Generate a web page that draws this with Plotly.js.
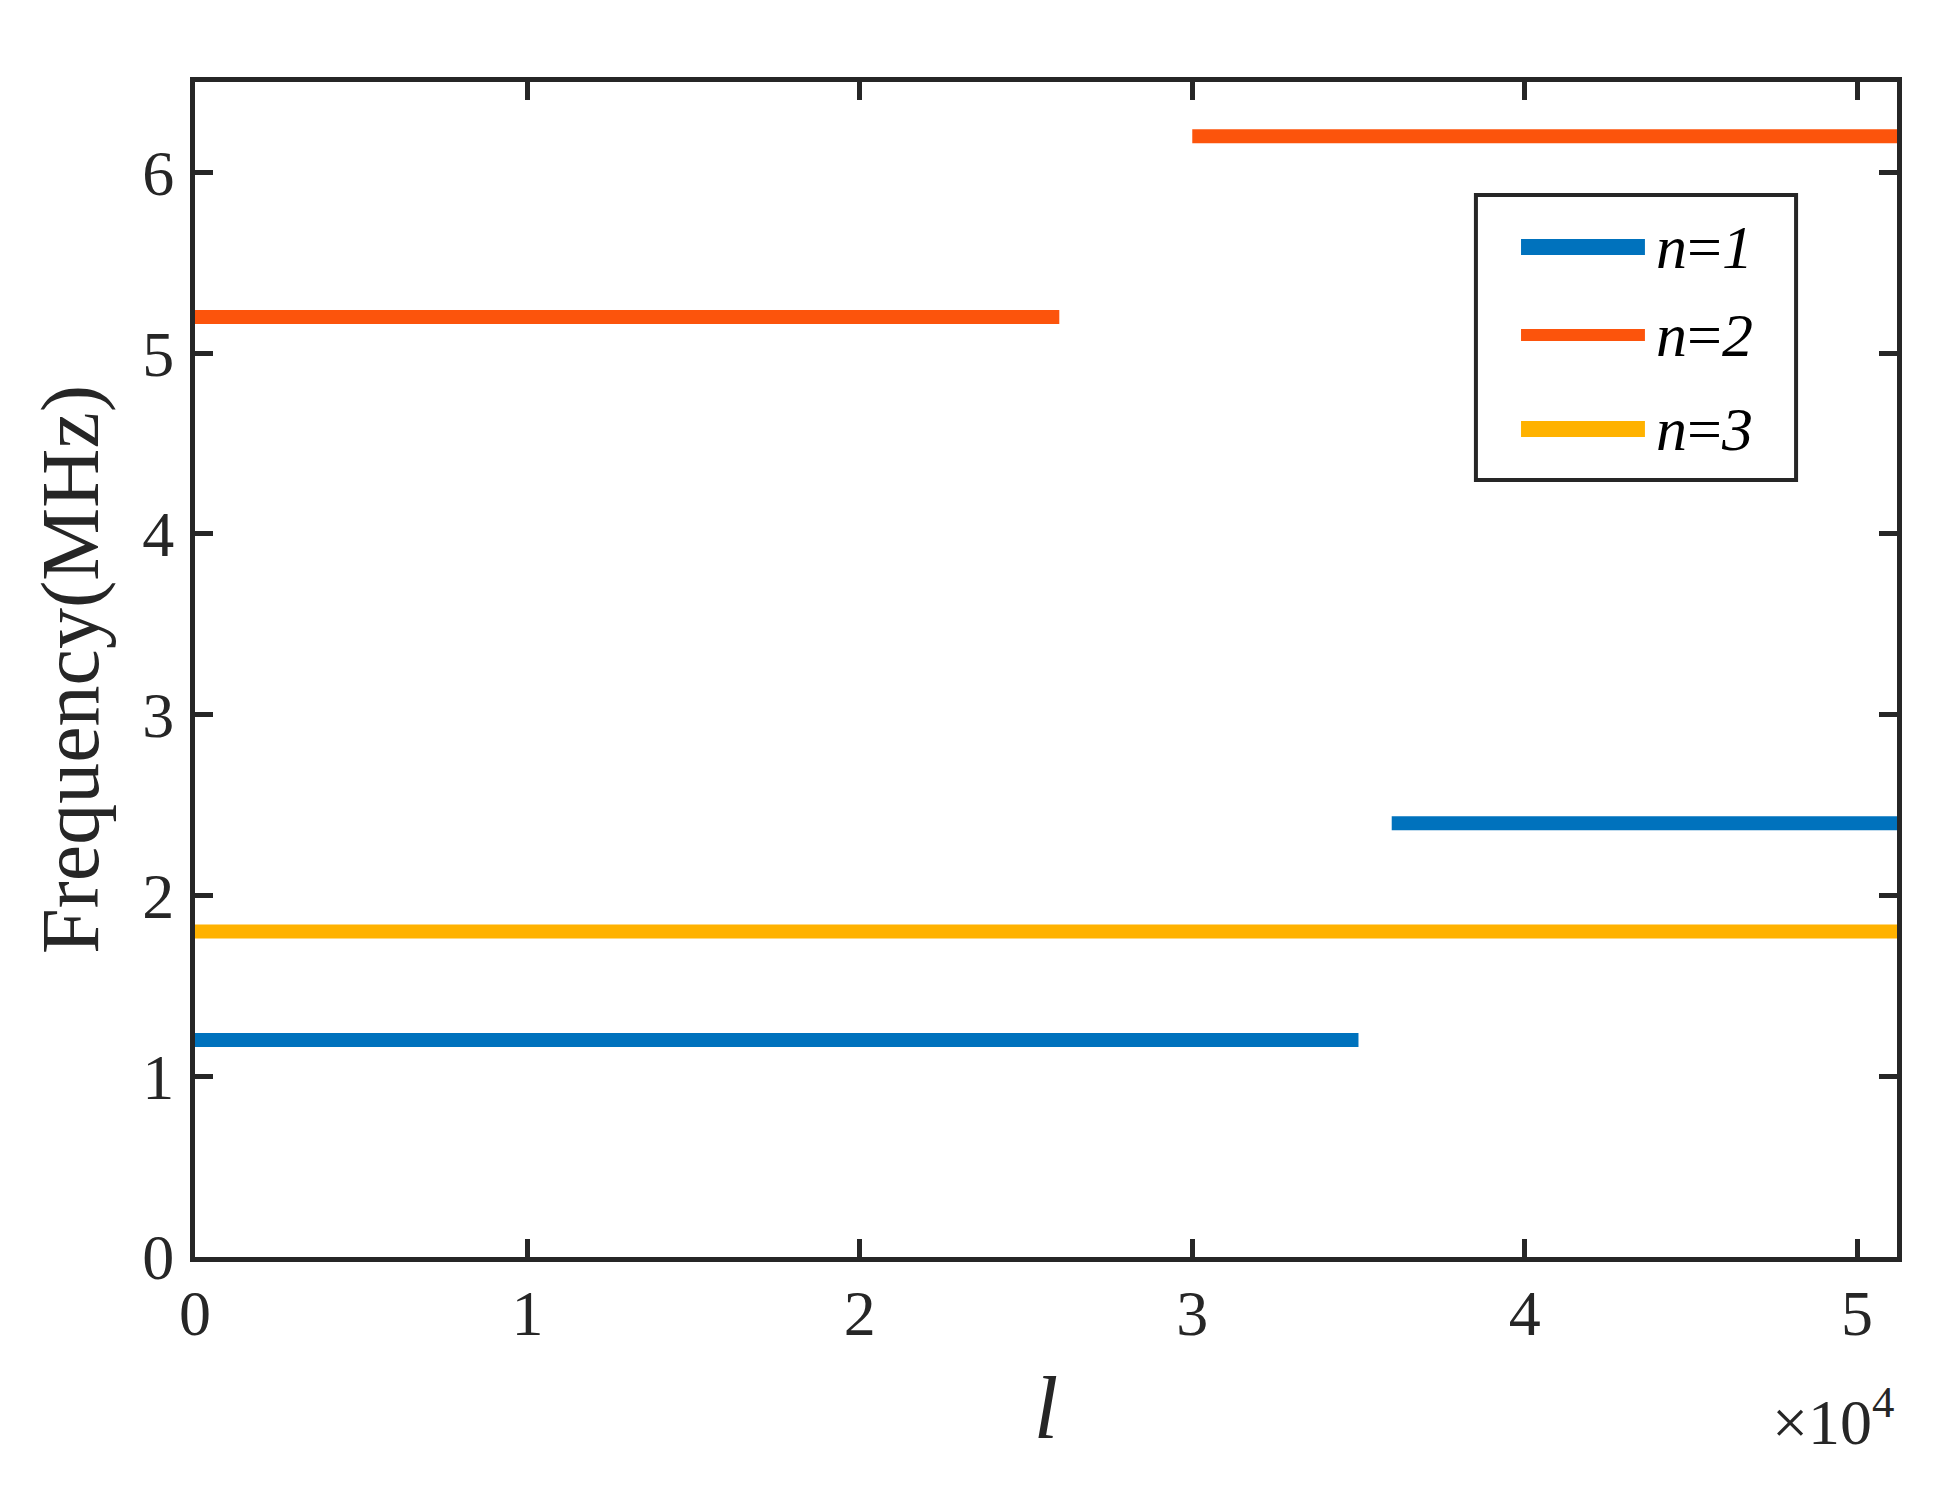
<!DOCTYPE html>
<html>
<head>
<meta charset="utf-8">
<script src="https://cdn.plot.ly/plotly-3.0.1.min.js"></script>
<style>
html,body{margin:0;padding:0;background:#fff;}
#chart{width:1948px;height:1495px;}
</style>
</head>
<body>
<div id="chart"></div>
<script>
// ---- data ----
var seriesNames = ['n=1', 'n=2', 'n=3'];
var seriesColors = ['#0072BD', '#FC540C', '#FFB200'];

// n=1 : two segments separated by a gap
var n1X = [0, 35000, null, 36000, 51200];
var n1Y = [1.2, 1.2, null, 2.4, 2.4];
// n=2
var n2X = [0, 26000, null, 30000, 51200];
var n2Y = [5.2, 5.2, null, 6.2, 6.2];
// n=3
var n3X = [0, 51200];
var n3Y = [1.8, 1.8];

var xTickVals = [0, 10000, 20000, 30000, 40000, 50000];
var xTickText = ['0', '1', '2', '3', '4', '5'];
var yTickVals = [0, 1, 2, 3, 4, 5, 6];
var xRange = [0, 51200];
var yRange = [0, 6.5];

// ---- styling ----
var FONT = '"Liberation Serif", "DejaVu Serif", serif';
var INK = '#262626';
var LW = 14;

var xs = [n1X, n2X, n3X];
var ys = [n1Y, n2Y, n3Y];
var traces = xs.map(function (x, i) {
  return {
    x: x, y: ys[i], type: 'scatter', mode: 'lines',
    name: seriesNames[i], connectgaps: false, showlegend: false,
    line: {color: seriesColors[i], width: LW}, hoverinfo: 'skip'
  };
});

// custom legend (paper coordinates)
var legX0 = 0.7526, legX1 = 0.9407, legY0 = 0.6613, legY1 = 0.9038;
var legRows = [0.8596, 0.7847, 0.7047];
var legLineW = [16, 12, 16];
var shapes = [{
  type: 'rect', xref: 'paper', yref: 'paper',
  x0: legX0, x1: legX1, y0: legY0, y1: legY1,
  line: {color: INK, width: 4}, fillcolor: '#ffffff', layer: 'above'
}];
var annotations = [];
seriesNames.forEach(function (nm, i) {
  shapes.push({
    type: 'line', xref: 'paper', yref: 'paper',
    x0: 0.7791, x1: 0.8519, y0: legRows[i], y1: legRows[i],
    line: {color: seriesColors[i], width: legLineW[i]}, layer: 'above'
  });
  var parts = nm.split('=');
  annotations.push({
    xref: 'paper', yref: 'paper', x: 0.8570, y: legRows[i],
    xanchor: 'left', yanchor: 'middle', showarrow: false,
    text: '<i>' + parts[0] + '</i>=<i>' + parts[1] + '</i>',
    font: {family: FONT, size: 62, color: '#000'}
  });
});
annotations.push({
  xref: 'paper', yref: 'paper', x: 1.0, y: -0.100,
  xanchor: 'right', yanchor: 'top', showarrow: false,
  text: '×10<sup>4</sup>',
  font: {family: FONT, size: 64, color: INK}
});

var axisCommon = {
  showline: true, linecolor: INK, linewidth: 5, mirror: 'ticks',
  ticks: 'inside', ticklen: 18, tickwidth: 5, tickcolor: INK,
  showgrid: false, zeroline: false,
  tickfont: {family: FONT, size: 64, color: INK}
};

var layout = {
  width: 1948, height: 1495,
  margin: {l: 195, r: 51, t: 82, b: 238},
  paper_bgcolor: '#ffffff', plot_bgcolor: '#ffffff',
  showlegend: false,
  xaxis: Object.assign({}, axisCommon, {
    range: xRange, tickmode: 'array', tickvals: xTickVals, ticktext: xTickText,
    ticklabelstandoff: -4,
    title: {text: '<i>l</i>', font: {family: FONT, size: 88, color: INK}, standoff: 30}
  }),
  yaxis: Object.assign({}, axisCommon, {
    range: yRange, tickmode: 'array', tickvals: yTickVals,
    ticklabelstandoff: 3,
    title: {text: 'Frequency(MHz)', font: {family: FONT, size: 82, color: INK}, standoff: 18}
  }),
  shapes: shapes,
  annotations: annotations
};

Plotly.newPlot('chart', traces, layout, {displayModeBar: false, staticPlot: true});
</script>
</body>
</html>
